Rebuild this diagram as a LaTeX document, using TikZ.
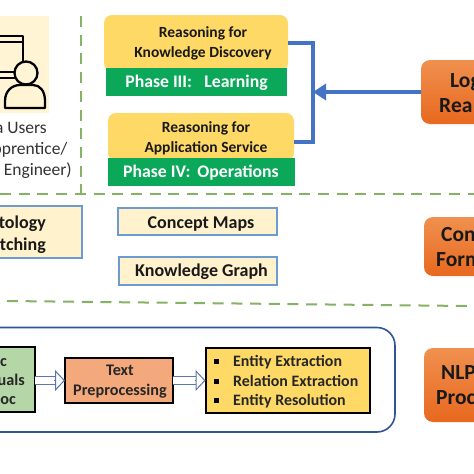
\documentclass[tikz,border=0pt]{standalone}
\usepackage{fontspec}
\setmainfont{Carlito}
\usetikzlibrary{arrows.meta,positioning,calc}
\definecolor{gold}{HTML}{FFD966}
\definecolor{phase}{HTML}{0BA85A}
\definecolor{beige}{HTML}{FFF2CC}
\definecolor{bluebd}{HTML}{6C9BCF}
\definecolor{connblue}{HTML}{4472C4}
\definecolor{navy}{HTML}{2F5597}
\definecolor{dashgreen}{HTML}{86B265}
\definecolor{doc}{HTML}{B5D7A8}
\definecolor{peach}{HTML}{F4A97C}
\definecolor{ltop}{HTML}{F0904F}
\definecolor{lbot}{HTML}{E8681E}
\tikzset{
 box/.style={anchor=north west,inner sep=0pt,outer sep=0pt},
 goldbox/.style={box,fill=gold,rounded corners=8pt},
 phasebox/.style={box,fill=phase},
 phasetext/.style={text=white,font=\fontsize{17.7}{19}\selectfont\bfseries,inner sep=0pt},
 reason/.style={font=\fontsize{15.5}{20}\selectfont\bfseries,align=center,inner sep=0pt,text=black!90},
 conceptbox/.style={box,fill=beige,draw=bluebd,line width=2pt},
 conceptext/.style={font=\fontsize{18}{19}\selectfont\bfseries,inner sep=0pt,text=black!90},
 layer/.style={box,rounded corners=9pt,top color=ltop,bottom color=lbot},
 layertext/.style={anchor=base west,inner sep=0pt,font=\fontsize{21.5}{25}\selectfont\bfseries,text=black!90},
 flowbox/.style={box,draw=black,line width=2pt},
 flowtext/.style={font=\fontsize{16.2}{20}\selectfont\bfseries,align=center,inner sep=0pt,text=black!85},
 listtext/.style={anchor=base west,inner sep=0pt,font=\fontsize{15.9}{17}\selectfont\bfseries,text=black!85},
 dashline/.style={draw=dashgreen,line width=2pt,dash pattern=on 11pt off 7.7pt},
 brack/.style={draw=connblue,line width=3.6pt},
 hollow/.style={draw=navy!80!white,double=white,double distance=7pt,line width=1pt,shorten >=9.5pt},
 hollowtip/.style={draw=navy!80!white,line width=1pt,-{Triangle[open,fill=white,length=10pt,width=21pt]}},
 usertext/.style={anchor=base east,inner sep=0pt,font=\fontsize{17.5}{21}\selectfont,text=black!80},
}
\begin{document}
\begin{tikzpicture}[x=1pt,y=-1pt]
\useasboundingbox (0,0) rectangle (474,474);
\clip (0,0) rectangle (474,474);
\fill[white] (0,0) rectangle (474,474);
% user panel
\fill[beige!85!white] (0,16) rectangle (49,113);
\draw[black,line width=2.3pt,line join=round] (-5,36) -- (23,36) -- (23,61);
\draw[black,line width=2.3pt] (-5,42) -- (23,42);
\draw[black,line width=2.3pt] (-5,72) -- (15,72);
\draw[black,line width=2.3pt] (-5,78) -- (15,78);
\draw[black,line width=2.3pt,fill=beige!85!white] (26,73) circle (11.5pt);
\draw[black,line width=2.3pt,line join=round] (5,108) -- (5,101) .. controls (5,91) and (12,85) .. (20,85) -- (33,85) .. controls (40,85) and (45,91) .. (45,101) -- (45,108) -- cycle;
\node[usertext] (u1) at (47,133) {a Users};
\node[usertext] (u2) at (67.5,154) {pprentice/};
\node[usertext] (u3) at (72,175) {Engineer)};
% dashed lines
\coordinate (dv1) at (81,16);\coordinate (dv2) at (81,193);
\coordinate (dh1) at (0,193.5);\coordinate (dh2) at (474,193.5);
\coordinate (dl1) at (7,301);\coordinate (dl2) at (467,306);
\draw[dashline] (dv1) -- (dv2);
\draw[dashline] (dh1) -- (dh2);
\draw[dashline] (dl1) -- (dl2);
% phases
\node[goldbox,minimum width=184pt,minimum height=56pt] (y1) at (104,15) {};
\node[phasebox,minimum width=181pt,minimum height=28pt] (g1) at (106,68) {};
\node[phasetext] (g1t) at (196.5,83) {Phase III:\hspace{0.7em}Learning};
\node[reason] (r1) at (203,43.5) {Reasoning for\\Knowledge Discovery};
\node[goldbox,minimum width=186pt,minimum height=48pt] (y2) at (108,113) {};
\node[phasebox,minimum width=187pt,minimum height=28pt] (g2) at (108,158) {};
\node[phasetext] (g2t) at (201,173) {Phase IV:\hspace{0.4em}Operations};
\node[reason] (r2) at (206,138.5) {Reasoning for\\Application Service};
% concept boxes
\node[conceptbox,minimum width=90pt,minimum height=52pt] (onto) at (-8,206) {};
\node[conceptext,anchor=base east] (o1) at (46,228) {tology};
\node[conceptext,anchor=base east] (o2) at (46,250) {tching};
\node[conceptbox,minimum width=159pt,minimum height=27pt] (cm) at (118,208) {};
\node[conceptext] (cmt) at (201,224) {Concept Maps};
\node[conceptbox,minimum width=158pt,minimum height=28pt] (kg) at (118.5,256.5) {};
\node[conceptext] (kgt) at (201.5,272) {Knowledge Graph};
% layers
\node[layer,minimum width=80pt,minimum height=64pt] (l1) at (421,60) {};
\node[layertext] (l1a) at (450,87) {Log};
\node[layertext] (l1b) at (439,112) {Rea};
\node[layer,minimum width=80pt,minimum height=59pt] (l2) at (424,217) {};
\node[layertext] (l2a) at (441,241) {Con};
\node[layertext] (l2b) at (436,266) {Form};
\node[layer,minimum width=80pt,minimum height=74pt] (l3) at (424,348) {};
\node[layertext] (l3a) at (441,379) {NLP};
\node[layertext] (l3b) at (436,404) {Proc};
% bracket
\coordinate (bm) at (313,92);
\coordinate (b1) at (313,43);
\coordinate (b2) at (313,142);
\draw[brack,line join=miter] (y1.east |- b1) -- (b1) -- (b2) -- (y2.east |- b2);
\draw[brack,-{Triangle[length=13pt,width=16pt]}] (l1.west |- bm) -- (bm);
% NLP panel
\draw[navy,line width=1.6pt,rounded corners=18pt] (-30,327.5) -- (395,327.5) -- (395,432) -- (-30,432);
\node[flowbox,fill=doc,minimum width=50pt,minimum height=65pt] (doc) at (-15,347) {};
\node[flowtext,anchor=base east] (d1) at (7,366) {c};
\node[flowtext,anchor=base east] (d2) at (25,385) {uals};
\node[flowtext,anchor=base east] (d3) at (16,404) {oc};
\node[flowbox,fill=peach,minimum width=108pt,minimum height=45pt] (tp) at (65,358) {};
\node[flowtext] (tpt) at (120,382) {Text\\Preprocessing};
\node[flowbox,fill=gold,minimum width=164pt,minimum height=65pt] (ent) at (205.5,348) {};
\foreach \i/\yy/\t in {a/361/Entity Extraction,b/381/Relation Extraction,c/400/Entity Resolution}{
  \fill[black] (214,\yy-2.5) rectangle +(5,5);
  \node[listtext] (e\i) at (233,\yy+5) {\t};
}
\draw[hollow] (doc.east |- tp.west) -- (tp.west);
\draw[hollowtip] ($(tp.west)+(-11,0)$) -- (tp.west);
\draw[hollow] (tp.east) -- (ent.west |- tp.east);
\draw[hollowtip] ($(ent.west |- tp.east)+(-11,0)$) -- (ent.west |- tp.east);
\end{tikzpicture}
\end{document}
